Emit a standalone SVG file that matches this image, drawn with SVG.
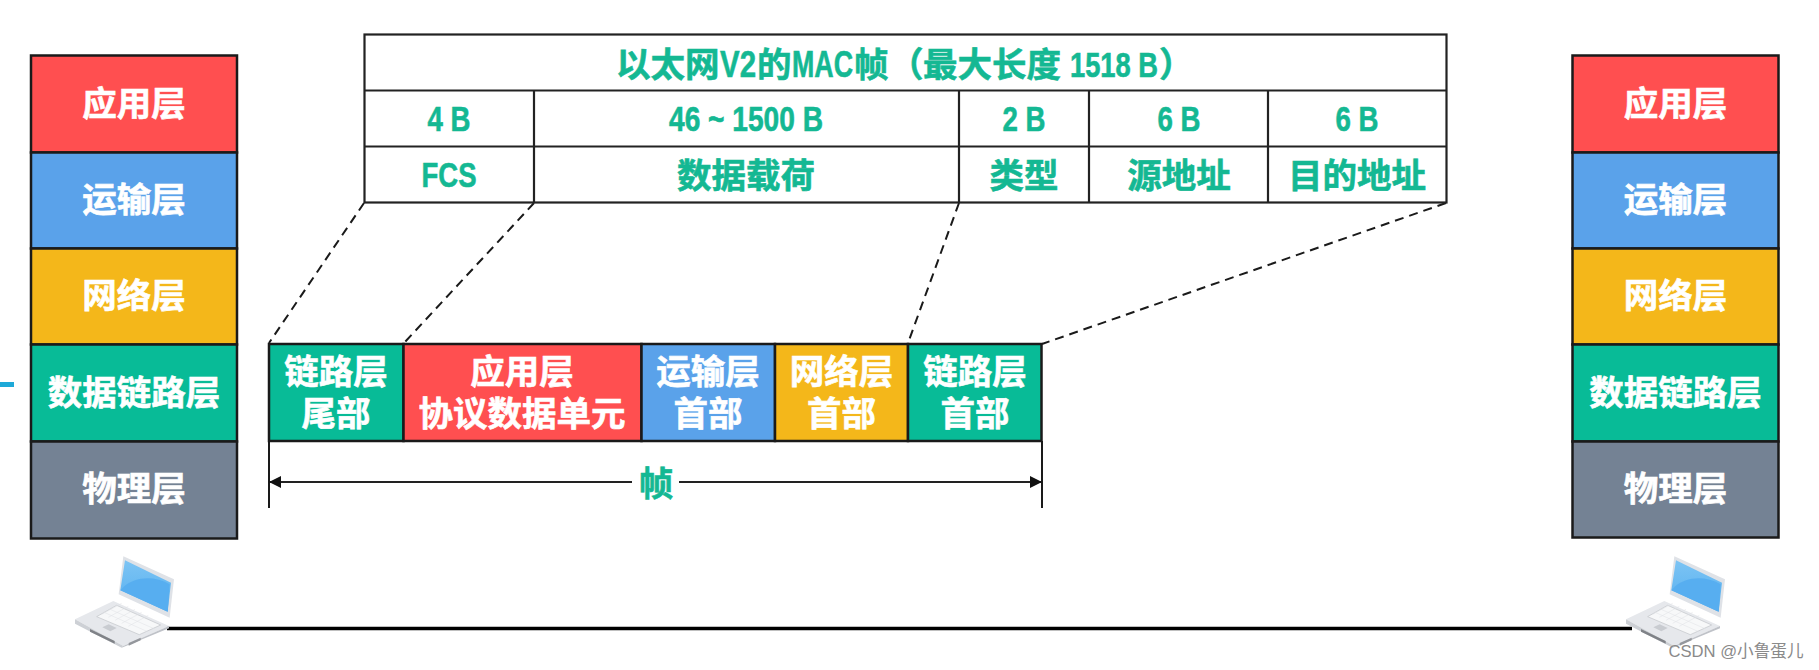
<svg xmlns="http://www.w3.org/2000/svg" width="1819" height="670" viewBox="0 0 1819 670">
<style>
text{font-family:"Liberation Sans","Noto Sans CJK SC",sans-serif;font-weight:700;text-anchor:middle}
.w{fill:#fff;font-size:34.500px;stroke:#fff;stroke-width:.6}
.g{fill:#14b893;font-size:34.500px;stroke:#14b893;stroke-width:.6}
.c{stroke:#1a1a1a;stroke-width:2.5}
.t{fill:none;stroke:#222;stroke-width:2.2}
.d{stroke:#1a1a1a;stroke-width:2;stroke-dasharray:9 6;fill:none}
.red{fill:#ff4f50}.blue{fill:#5aa2ea}.yel{fill:#f4b71a}.grn{fill:#08bb97}.gry{fill:#748294}
</style>
<defs>
<marker id="ah" viewBox="0 0 12 12" refX="11" refY="6" markerWidth="12" markerHeight="12" markerUnits="userSpaceOnUse" orient="auto-start-reverse"><path d="M0 0L12 6L0 12Z" fill="#111"/></marker>
<linearGradient id="sc" x1="0" y1="0" x2="0" y2="1"><stop offset="0" stop-color="#7cc4f4"/><stop offset="1" stop-color="#55aeef"/></linearGradient>
<g id="laptop">
<path d="M15 205L130 150L297 225L160 285Z" fill="#e6e8ec"/>
<path d="M15 205L15 218L155 290L160 285Z" fill="#cdd0d5"/>
<path d="M160 285L155 290L297 232L297 225Z" fill="#bfc2c8"/>
<path d="M60 234L134 270L134 278L60 242Z" fill="#7f8287"/>
<path d="M176 276L212 260L212 268L176 284Z" fill="#94979c"/>
<path d="M80 197L140 163L272 222L208 251Z" fill="#f7f8f9" stroke="#bfc2c7" stroke-width="2"/>
<path d="M95 190L155 157M115 199L175 166M135 208L195 175M155 217L215 184M175 226L235 193M100 183L235 243M118 174L252 233" stroke="#dfe1e4" stroke-width="1.500" fill="none"/>
<path d="M97 229L116 220L140 231L121 241Z" fill="#c9ccd1"/>
<path d="M160 16L312 85L299 200L146 130Z" fill="#dfe2e7"/>
<path d="M165 28L303 95L293 182L151 118Z" fill="url(#sc)"/>
<path d="M163 106C190 80 250 70 299 100L293 182L151 118Z" fill="#57aef0"/>
</g>
</defs>
<rect width="1819" height="670" fill="#fff"/>
<rect x="0" y="382" width="14" height="5" fill="#1ea9d8"/>
<g id="connectors">
<path class="d" d="M364 203L269 343"/>
<path class="d" d="M534 203L404 343"/>
<path class="d" d="M959 203L908 343"/>
<path class="d" d="M1446 203L1042 344"/>
<path d="M269 441V508M1042 441V508" stroke="#1a1a1a" stroke-width="2" fill="none"/>
<path d="M632 482H270" stroke="#222" stroke-width="2" marker-end="url(#ah)"/>
<path d="M679 482H1041" stroke="#222" stroke-width="2" marker-end="url(#ah)"/>
<path d="M167 628.500H1632" stroke="#000" stroke-width="3.500"/>
</g>
<g id="table">
<rect class="t" x="364.500" y="34.500" width="1082" height="168"/>
<path class="t" d="M364 90.500H1447M364 146.500H1447M534 90.500V203M959 90.500V203M1089 90.500V203M1268 90.500V203"/>
<text class="g" style="text-anchor:start" y="77"><tspan x="616">以太网</tspan><tspan x="720" font-size="37" textLength="36" lengthAdjust="spacingAndGlyphs">V2</tspan><tspan x="757">的</tspan><tspan x="792" font-size="37" textLength="61" lengthAdjust="spacingAndGlyphs">MAC</tspan><tspan x="854">帧</tspan><tspan x="889">（</tspan><tspan x="923">最大长度</tspan><tspan x="1070" textLength="88" lengthAdjust="spacingAndGlyphs">1518 B</tspan><tspan x="1159">）</tspan></text>
<text class="g" x="449" y="130.500" textLength="43" lengthAdjust="spacingAndGlyphs">4 B</text>
<text class="g" x="746" y="130.500" textLength="154" lengthAdjust="spacingAndGlyphs">46 ~ 1500 B</text>
<text class="g" x="1024" y="130.500" textLength="43" lengthAdjust="spacingAndGlyphs">2 B</text>
<text class="g" x="1179" y="130.500" textLength="43" lengthAdjust="spacingAndGlyphs">6 B</text>
<text class="g" x="1357" y="130.500" textLength="43" lengthAdjust="spacingAndGlyphs">6 B</text>
<text class="g" x="449" y="187" textLength="55" lengthAdjust="spacingAndGlyphs">FCS</text>
<text class="g" x="746" y="188">数据载荷</text>
<text class="g" x="1024" y="188">类型</text>
<text class="g" x="1179" y="188">源地址</text>
<text class="g" x="1357" y="188">目的地址</text>
</g>
<g id="stack-left">
<g id="l-app"><rect class="c red" x="31" y="55.500" width="206" height="97"/><text class="w" x="134" y="116">应用层</text></g>
<g id="l-trans"><rect class="c blue" x="31" y="152.500" width="206" height="96"/><text class="w" x="134" y="212">运输层</text></g>
<g id="l-net"><rect class="c yel" x="31" y="248.500" width="206" height="96"/><text class="w" x="134" y="308">网络层</text></g>
<g id="l-link"><rect class="c grn" x="31" y="344.500" width="206" height="97"/><text class="w" x="134" y="405">数据链路层</text></g>
<g id="l-phys"><rect class="c gry" x="31" y="441.500" width="206" height="97"/><text class="w" x="134" y="501">物理层</text></g>
</g>
<g id="stack-right">
<g id="r-app"><rect class="c red" x="1572.500" y="55.500" width="206" height="97"/><text class="w" x="1675.500" y="116">应用层</text></g>
<g id="r-trans"><rect class="c blue" x="1572.500" y="152.500" width="206" height="96"/><text class="w" x="1675.500" y="212">运输层</text></g>
<g id="r-net"><rect class="c yel" x="1572.500" y="248.500" width="206" height="96"/><text class="w" x="1675.500" y="308">网络层</text></g>
<g id="r-link"><rect class="c grn" x="1572.500" y="344.500" width="206" height="97"/><text class="w" x="1675.500" y="405">数据链路层</text></g>
<g id="r-phys"><rect class="c gry" x="1572.500" y="441.500" width="206" height="96"/><text class="w" x="1675.500" y="501">物理层</text></g>
</g>
<g id="frame">
<g id="f-trailer"><rect class="c grn" x="269" y="344" width="134.500" height="97"/><text class="w" x="336" y="384">链路层</text><text class="w" x="336" y="426">尾部</text></g>
<g id="f-pdu"><rect class="c red" x="403.500" y="344" width="238" height="97"/><text class="w" x="522" y="384">应用层</text><text class="w" x="522" y="426">协议数据单元</text></g>
<g id="f-th"><rect class="c blue" x="641.500" y="344" width="133.500" height="97"/><text class="w" x="708" y="384">运输层</text><text class="w" x="708" y="426">首部</text></g>
<g id="f-nh"><rect class="c yel" x="775" y="344" width="133" height="97"/><text class="w" x="841.500" y="384">网络层</text><text class="w" x="841.500" y="426">首部</text></g>
<g id="f-lh"><rect class="c grn" x="908" y="344" width="133.500" height="97"/><text class="w" x="975" y="384">链路层</text><text class="w" x="975" y="426">首部</text></g>
<text class="g" x="656" y="496">帧</text>
</g>
<g id="host-left"><use href="#laptop" transform="translate(70 551) scale(.3333)"/></g>
<g id="host-right"><use href="#laptop" transform="translate(1621 551) scale(.3333)"/></g>
<text x="1736" y="657" font-size="16.500" fill="#8a8a8a" textLength="135" lengthAdjust="spacingAndGlyphs" style="font-weight:400">CSDN @小鲁蛋儿</text>
</svg>
